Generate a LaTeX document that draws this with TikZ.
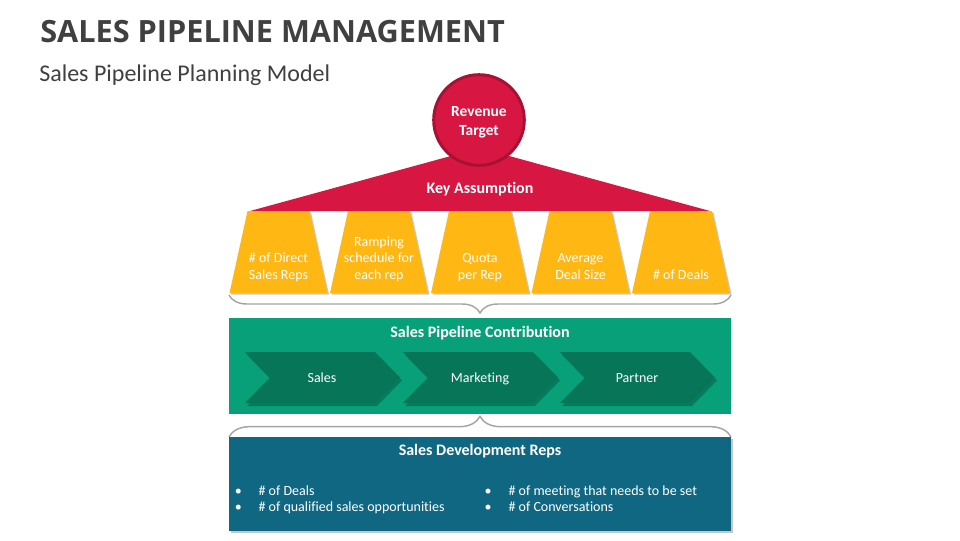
\documentclass[tikz,border=0pt]{standalone}
\usepackage{fontspec}
\setmainfont{Carlito}[Ligatures={NoCommon}]
\newfontfamily\titlefont{Open Sans}
\usetikzlibrary{decorations.pathreplacing}
\definecolor{crim}{RGB}{215,22,65}
\definecolor{crimdark}{RGB}{165,18,52}
\definecolor{amber}{RGB}{255,183,20}
\definecolor{grn}{RGB}{7,160,120}
\definecolor{grndark}{RGB}{7,118,88}
\definecolor{blu}{RGB}{16,103,130}
\definecolor{titlegray}{RGB}{64,64,64}
\definecolor{bracegray}{RGB}{165,165,165}
\begin{document}
\begin{tikzpicture}[x=0.75pt,y=-0.75pt,
  body/.style={text=white,font=\fontsize{10.5}{12.6}\selectfont,align=center,inner sep=0pt},
  head/.style={text=white,font=\bfseries\fontsize{12}{14}\selectfont,inner sep=0pt},
  brc/.style={draw=bracegray,line width=1.1pt,decorate,decoration={brace,amplitude=#1}},
  shd/.style={fill=black,opacity=0.22}]
\useasboundingbox (0,0) rectangle (960,540);
% titles
\node[anchor=base west,inner sep=0pt,text=titlegray,font=\titlefont\bfseries\fontsize{23}{28}\selectfont] (title) at (40,42.3) {SALES PIPELINE MANAGEMENT};
\node[anchor=base west,inner sep=0pt,text=titlegray,font=\fontsize{18}{22}\selectfont] (sub) at (39,81) {Sales Pipeline Planning Model};
% triangle
\fill[crim] (250,211) -- (480,148) -- (710,211) -- cycle;
\node[head] (ka) at (480,189) {Key Assumption};
% circle
\node[circle,fill=crim,draw=crimdark,line width=2.2pt,minimum size=68pt,inner sep=0pt] (rt) at (479,120) {};
\node[text=white,font=\bfseries\fontsize{11.6}{14}\selectfont,align=center,inner sep=0pt] (rtt) at (479,122) {Revenue\\Target};
% trapezoids
\foreach \cx/\txt/\n in {278.5/{\# of Direct\\Sales Reps\strut}/1,
                       379/{Ramping\\schedule for\\each rep\strut}/2,
                       480/{Quota\\per Rep\strut}/3,
                       580.5/{Average\\Deal Size\strut}/4,
                       681/{\# of Deals\strut}/5}{
  \fill[shd] (\cx-31+1.5,211+1.5) -- (\cx+31+1.5,211+1.5) -- (\cx+49+1.5,293+1.5) -- (\cx-49+1.5,293+1.5) -- cycle;
  \fill[amber] (\cx-31,211) -- (\cx+31,211) -- (\cx+49,293) -- (\cx-49,293) -- cycle;
  \node[body,anchor=south] (t\n) at (\cx,285) {\txt};
}
% top brace
\coordinate (b1r) at (731,295);
\coordinate (b1l) at (229,295);
\draw[brc=13.5pt] (b1r) -- (b1l);
% green box
\fill[grn] (229,318) rectangle (731,414);
\node[head] (spc) at (480,333) {Sales Pipeline Contribution};
\foreach \x/\txt/\n in {245/Sales/1, 403/Marketing/2, 560/Partner/3}{
  \fill[shd] (\x+2,352+3) -- (\x+130+2,352+3) -- (\x+155+2,377.5+3) -- (\x+130+2,403+3) -- (\x+2,403+3) -- (\x+25+2,377.5+3) -- cycle;
  \fill[grndark] (\x,352) -- (\x+130,352) -- (\x+155,377.5) -- (\x+130,403) -- (\x,403) -- (\x+25,377.5) -- cycle;
  \node[body,anchor=base] (c\n) at (\x+77,382) {\txt};
}
% bottom brace
\coordinate (b2l) at (229,437);
\coordinate (b2r) at (731,437);
\draw[brc=15.5pt] (b2l) -- (b2r);
% blue box
\fill[shd] (230.5,438.5) rectangle (732.5,532.5);
\fill[blu] (229,437) rectangle (731,531);
\node[head] (sdr) at (480,451.5) {Sales Development Reps};
\node[body,anchor=base] (bl1) at (238.3,495.2) {\textbullet};
\node[body,anchor=base west] (tl1) at (258.3,495.2) {\# of Deals};
\node[body,anchor=base] (bl2) at (238.3,511.8) {\textbullet};
\node[body,anchor=base west] (tl2) at (258.3,511.8) {\# of qualified sales opportunities};
\node[body,anchor=base] (br1) at (488,495.2) {\textbullet};
\node[body,anchor=base west] (tr1) at (508.3,495.2) {\# of meeting that needs to be set};
\node[body,anchor=base] (br2) at (488,511.8) {\textbullet};
\node[body,anchor=base west] (tr2) at (508.3,511.8) {\# of Conversations};
\end{tikzpicture}
\end{document}
